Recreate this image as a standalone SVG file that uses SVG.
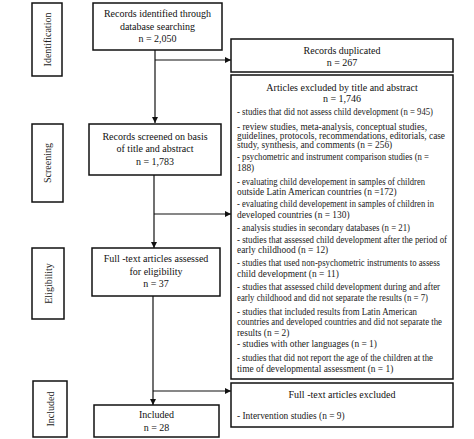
<svg xmlns="http://www.w3.org/2000/svg" width="474" height="439" viewBox="0 0 474 439">
<defs>
<style>
.box{fill:#fff;stroke:#111;stroke-width:1.5}
.t{font-family:"Liberation Serif","Times New Roman",serif;font-size:10px;fill:#111;text-anchor:middle}
.s{font-family:"Liberation Serif","Times New Roman",serif;font-size:9.4px;fill:#222}
.side{font-family:"Liberation Serif","Times New Roman",serif;font-size:10px;fill:#222;text-anchor:middle;dominant-baseline:central}
.c{stroke:#111;stroke-width:1.2;fill:none;marker-end:url(#ah)}
</style>
<marker id="ah" viewBox="0 0 10 10" refX="10" refY="5" markerWidth="6" markerHeight="6" markerUnits="userSpaceOnUse" orient="auto">
<path d="M0,0 L10,5 L0,10 z" fill="#111"/>
</marker>
</defs>
<rect width="474" height="439" fill="#fff"/>
<g id="phase-identification"><rect class="box" x="32" y="3" width="30" height="73"/><text class="side" transform="translate(47,39.5) rotate(-90)">Identification</text></g>
<g id="phase-screening"><rect class="box" x="32" y="124" width="31" height="78"/><text class="side" transform="translate(47.5,163) rotate(-90)">Screening</text></g>
<g id="phase-eligibility"><rect class="box" x="32" y="248" width="32" height="71"/><text class="side" transform="translate(48,283.5) rotate(-90)">Eligibility</text></g>
<g id="phase-included"><rect class="box" x="33" y="381" width="34" height="56"/><text class="side" transform="translate(50,409) rotate(-90)">Included</text></g>

<g id="connectors">
<path class="c" d="M155,50 V123"/>
<path class="c" d="M155,60 H231"/>
<path class="c" d="M154,175 V248"/>
<path class="c" d="M154,214 H231"/>
<path class="c" d="M153,296 V405"/>
<path class="c" d="M153,391 H231"/>
</g>

<g id="identified"><rect class="box" x="93" y="3" width="129" height="47"/>
<text class="t" x="157.5" y="17">Records identified through</text>
<text class="t" x="157.5" y="30">database searching</text>
<text class="t" x="157.5" y="42">n = 2,050</text></g>

<g id="duplicated"><rect class="box" x="231" y="39" width="222" height="33"/>
<text class="t" x="342" y="53.5">Records duplicated</text>
<text class="t" x="342" y="66">n = 267</text></g>

<g id="excluded-title"><rect class="box" x="231" y="75" width="222" height="304"/>
<text class="t" x="342" y="90.5">Articles excluded by title and abstract</text>
<text class="t" x="342" y="102">n = 1,746</text>
<g class="s">
<text x="237" y="115" textLength="196" lengthAdjust="spacingAndGlyphs">- studies that did not assess child development (n = 945)</text>
<text x="237" y="130" textLength="190" lengthAdjust="spacingAndGlyphs">- review studies, meta-analysis, conceptual studies,</text>
<text x="237" y="139" textLength="208" lengthAdjust="spacingAndGlyphs">guidelines, protocols, recommendations, editorials, case</text>
<text x="237" y="148">study, synthesis, and comments (n = 256)</text>
<text x="237" y="160" textLength="192" lengthAdjust="spacingAndGlyphs">- psychometric and instrument comparison studies (n =</text>
<text x="237" y="171">188)</text>
<text x="237" y="185" textLength="188" lengthAdjust="spacingAndGlyphs">- evaluating child developement in samples of children</text>
<text x="237" y="195">outside Latin American countries (n =172)</text>
<text x="237" y="207" textLength="197" lengthAdjust="spacingAndGlyphs">- evaluating child developement in samples of children in</text>
<text x="237" y="218">developed countries (n = 130)</text>
<text x="237" y="231" textLength="173" lengthAdjust="spacingAndGlyphs">- analysis studies in secondary databases (n = 21)</text>
<text x="237" y="243" textLength="210" lengthAdjust="spacingAndGlyphs">- studies that assessed child development after the period of</text>
<text x="237" y="253">early childhood (n = 12)</text>
<text x="237" y="266" textLength="203" lengthAdjust="spacingAndGlyphs">- studies that used non-psychometric instruments to assess</text>
<text x="237" y="277">child development (n = 11)</text>
<text x="237" y="290" textLength="203" lengthAdjust="spacingAndGlyphs">- studies that assessed child development during and after</text>
<text x="237" y="301" textLength="191" lengthAdjust="spacingAndGlyphs">early childhood and did not separate the results (n = 7)</text>
<text x="237" y="315" textLength="180" lengthAdjust="spacingAndGlyphs">- studies that included results from Latin American</text>
<text x="237" y="325" textLength="205" lengthAdjust="spacingAndGlyphs">countries and developed countries and did not separate the</text>
<text x="237" y="336">results (n = 2)</text>
<text x="237" y="347">- studies with other languages (n = 1)</text>
<text x="237" y="361" textLength="196" lengthAdjust="spacingAndGlyphs">- studies that did not report the age of the children at the</text>
<text x="237" y="372">time of developmental assessment (n = 1)</text>
</g></g>

<g id="screened"><rect class="box" x="89" y="124" width="132" height="51"/>
<text class="t" x="155" y="140">Records screened on basis</text>
<text class="t" x="155" y="152">of title and abstract</text>
<text class="t" x="155" y="165">n = 1,783</text></g>

<g id="fulltext"><rect class="box" x="92" y="248" width="128" height="48"/>
<text class="t" x="156" y="262">Full -text articles assessed</text>
<text class="t" x="156" y="275">for eligibility</text>
<text class="t" x="156" y="287">n = 37</text></g>

<g id="fulltext-excluded"><rect class="box" x="231" y="383" width="222" height="44"/>
<text class="t" x="342" y="397.5">Full -text articles excluded</text>
<text class="s" x="237" y="419">- Intervention studies (n = 9)</text></g>

<g id="included"><rect class="box" x="94" y="405" width="125" height="32"/>
<text class="t" x="156.5" y="418">Included</text>
<text class="t" x="156.5" y="431">n = 28</text></g>
</svg>
